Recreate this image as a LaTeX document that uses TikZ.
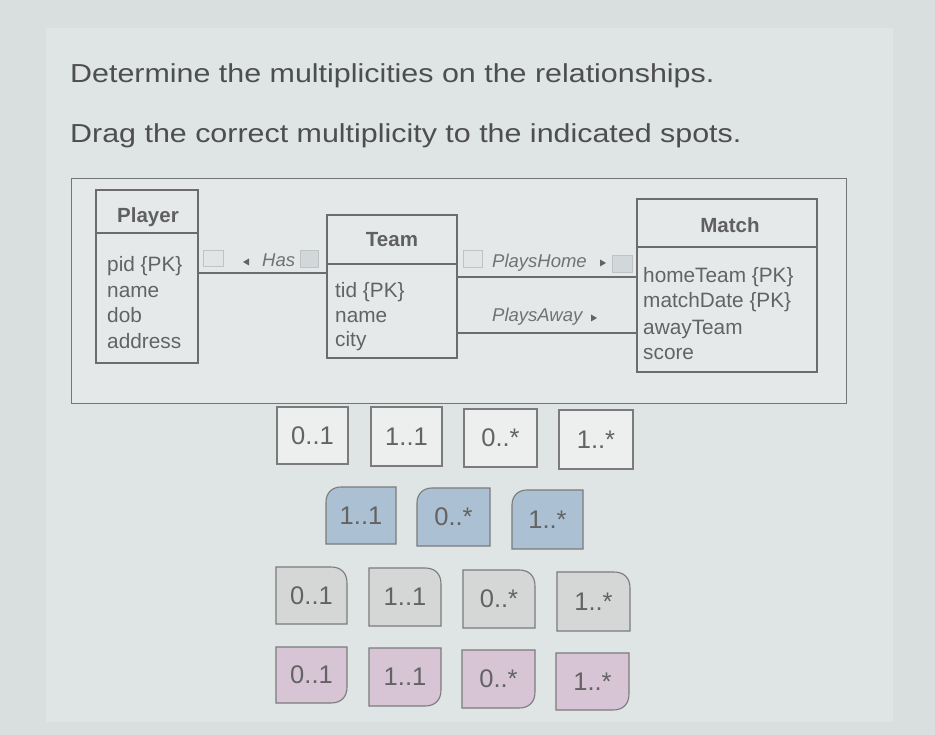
\documentclass[tikz,border=0pt]{standalone}
\usepackage{fontspec}
\setmainfont{Liberation Sans}
\newfontfamily\widefont[FakeStretch=1.17]{Liberation Sans}
\definecolor{bgc}{HTML}{D9DFDF}
\definecolor{panelc}{HTML}{DFE4E4}
\definecolor{diagc}{HTML}{E4E8E8}
\definecolor{entc}{HTML}{E6E9EA}
\definecolor{linec}{HTML}{6C6C6C}
\definecolor{framec}{HTML}{747777}
\definecolor{txtc}{HTML}{636363}
\definecolor{titlec}{HTML}{4E4E4E}
\definecolor{whitetile}{HTML}{EDEEEE}
\definecolor{bluetile}{HTML}{ABC0D2}
\definecolor{graytile}{HTML}{D5D7D7}
\definecolor{pinktile}{HTML}{D7C5D5}
\definecolor{phfaint}{HTML}{E2E5E6}
\definecolor{phdark}{HTML}{D2D7D9}
\tikzset{
  titletext/.style={anchor=base west, inner sep=0pt, text=titlec, font=\widefont\fontsize{26}{30}\selectfont},
  enthead/.style={draw=linec, fill=entc, line width=2pt, inner sep=0pt},
  entbody/.style={draw=linec, fill=entc, line width=2pt, inner sep=0pt},
  headtext/.style={anchor=base, inner sep=0pt, text=titlec!90, font=\fontsize{20.5}{22}\selectfont\bfseries},
  attrtext/.style={anchor=base west, inner sep=0pt, text=txtc, font=\fontsize{20.8}{22}\selectfont},
  reltext/.style={anchor=base west, inner sep=0pt, text=txtc!90, font=\fontsize{18.5}{22}\selectfont\itshape},
  conn/.style={draw=linec, line width=2pt},
  tiletext/.style={inner sep=0pt, text=txtc, font=\fontsize{25.5}{28}\selectfont},
  tileline/.style={draw=linec!90, line width=1.1pt},
  phbox/.style={draw=phfaint!85!black, line width=0.6pt},
}
\newcommand{\plainTile}[6]{%
  \fill[whitetile] (#2,#3) rectangle (#4,#5);
  \draw[tileline] (#2,#3) rectangle (#4,#5);
  \node[tiletext] (#1) at ({(#2+#4)/2},{(#3+#5)/2}) {#6};}
\newcommand{\blueTile}[6]{%
  \path[tileline, fill=bluetile] (#2,#5) -- (#2,{#3+15}) .. controls (#2,{#3+6}) and ({#2+6},#3) .. ({#2+15},#3) -- (#4,#3) -- (#4,#5) -- cycle;
  \node[tiletext] (#1) at ({(#2+#4)/2},{(#3+#5)/2}) {#6};}
\newcommand{\grayTile}[6]{%
  \path[tileline, fill=graytile] (#2,#5) -- (#2,#3) -- ({#4-16},#3) .. controls ({#4-6},#3) and (#4,{#3+6}) .. (#4,{#3+16}) -- (#4,#5) -- cycle;
  \node[tiletext] (#1) at ({(#2+#4)/2},{(#3+#5)/2}) {#6};}
\newcommand{\pinkTile}[6]{%
  \path[tileline, fill=pinktile] (#2,#3) -- (#4,#3) -- (#4,{#5-16}) .. controls (#4,{#5-6}) and ({#4-6},#5) .. ({#4-16},#5) -- (#2,#5) -- cycle;
  \node[tiletext] (#1) at ({(#2+#4)/2},{(#3+#5)/2}) {#6};}
\begin{document}
\begin{tikzpicture}[x=1pt,y=-1pt]
\useasboundingbox (0,0) rectangle (935,735);
\fill[bgc] (0,0) rectangle (935,735);
\fill[panelc] (46,28) rectangle (893,722);

% titles
\node[titletext] (t1) at (70,83) {Determine the multiplicities on the relationships.};
\node[titletext] (t2) at (70,143) {Drag the correct multiplicity to the indicated spots.};

% frame
\node[draw=framec, fill=diagc, line width=1.1pt, inner sep=0pt, minimum width=775pt, minimum height=225pt, anchor=north west] (frame) at (71,178) {};

% Player
\node[enthead, minimum width=102pt, minimum height=43pt] (playerH) at (147,211.5) {};
\node[entbody, minimum width=102pt, minimum height=130pt] (playerB) at (147,298) {};
\node[headtext] (playerT) at (148,223) {Player};
\node[attrtext] (p1) at (107,272) {pid \{PK\}};
\node[attrtext] (p2) at (107,298) {name};
\node[attrtext] (p3) at (107,323) {dob};
\node[attrtext] (p4) at (107,349) {address};

% Team
\node[enthead, minimum width=130pt, minimum height=49pt] (teamH) at (392,239.5) {};
\node[entbody, minimum width=130pt, minimum height=94pt] (teamB) at (392,311) {};
\node[headtext] (teamT) at (392,247) {Team};
\node[attrtext] (q1) at (335,298) {tid \{PK\}};
\node[attrtext] (q2) at (335,323) {name};
\node[attrtext] (q3) at (335,347) {city};

% Match
\node[enthead, minimum width=180pt, minimum height=48pt] (matchH) at (727,223) {};
\node[entbody, minimum width=180pt, minimum height=125pt] (matchB) at (727,309.5) {};
\node[headtext] (matchT) at (730,233) {Match};
\node[attrtext] (m1) at (643,283) {homeTeam \{PK\}};
\node[attrtext] (m2) at (643,308) {matchDate \{PK\}};
\node[attrtext] (m3) at (643,335) {awayTeam};
\node[attrtext] (m4) at (643,360) {score};

% connectors
\coordinate (hasY) at (0,273);
\coordinate (homeY) at (0,277);
\coordinate (awayY) at (0,333);
\draw[conn] (playerB.east |- hasY) -- (teamB.west |- hasY);
\draw[conn] (teamB.east |- homeY) -- (matchB.west |- homeY);
\draw[conn] (teamB.east |- awayY) -- (matchB.west |- awayY);

% placeholders
\draw[phbox, fill=phfaint] (203,250) rectangle (223,266);
\draw[phbox, fill=phdark] (300,250) rectangle (318,267);
\draw[phbox, fill=phfaint] (463,250) rectangle (482,267);
\draw[phbox, fill=phdark] (612,255) rectangle (632,272);

% relationship labels
\fill[txtc] (243,262) -- (249,258.5) -- (249,265.5) -- cycle;
\node[reltext] (has) at (262,267) {Has};
\node[reltext] (home) at (492,268) {PlaysHome};
\fill[txtc] (606,263) -- (600,259.5) -- (600,266.5) -- cycle;
\node[reltext] (away) at (492,322) {PlaysAway};
\fill[txtc] (597,318) -- (591,314.5) -- (591,321.5) -- cycle;

% tiles row 1
\plainTile{a1}{277}{407}{348}{464}{0..1}
\plainTile{a2}{371}{407}{442}{466}{1..1}
\plainTile{a3}{464}{409}{537}{467}{0..*}
\plainTile{a4}{559}{410}{633}{469}{1..*}
% row 2 blue
\blueTile{b1}{326}{487}{396}{544}{1..1}
\blueTile{b2}{417}{488}{490}{546}{0..*}
\blueTile{b3}{512}{490}{583}{549}{1..*}
% row 3 gray
\grayTile{c1}{276}{567}{347}{624}{0..1}
\grayTile{c2}{369}{568}{441}{626}{1..1}
\grayTile{c3}{463}{570}{535}{628}{0..*}
\grayTile{c4}{557}{572}{630}{631}{1..*}
% row 4 pink
\pinkTile{d1}{276}{647}{347}{703}{0..1}
\pinkTile{d2}{369}{648}{441}{706}{1..1}
\pinkTile{d3}{462}{650}{535}{708}{0..*}
\pinkTile{d4}{556}{653}{629}{710}{1..*}
\end{tikzpicture}
\end{document}
